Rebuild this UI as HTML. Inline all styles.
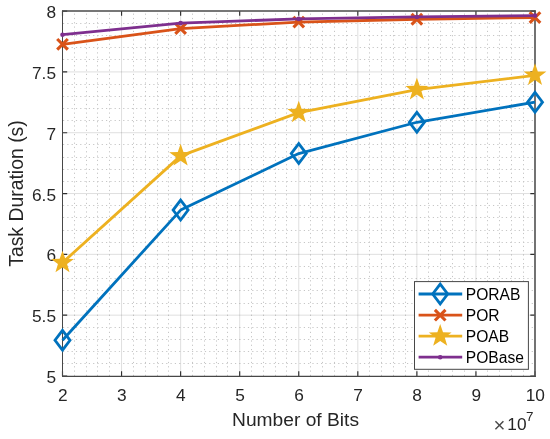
<!DOCTYPE html><html><head><meta charset="utf-8"><title>Task Duration vs Number of Bits</title><style>html,body{margin:0;padding:0;background:#fff;}svg{display:block;}text{font-family:'Liberation Sans', Arial, Helvetica, sans-serif;fill:#262626;}</style></head><body>
<svg width="550" height="439" viewBox="0 0 550 439">
<rect width="550" height="439" fill="#fff"/>
<path d="M74.5 376V11.1M86.5 376V11.1M97.5 376V11.1M109.5 376V11.1M133.5 376V11.1M145.5 376V11.1M157.5 376V11.1M168.5 376V11.1M192.5 376V11.1M204.5 376V11.1M216.5 376V11.1M227.5 376V11.1M251.5 376V11.1M263.5 376V11.1M275.5 376V11.1M286.5 376V11.1M310.5 376V11.1M322.5 376V11.1M334.5 376V11.1M346.5 376V11.1M369.5 376V11.1M381.5 376V11.1M393.5 376V11.1M405.5 376V11.1M428.5 376V11.1M440.5 376V11.1M452.5 376V11.1M464.5 376V11.1M487.5 376V11.1M499.5 376V11.1M511.5 376V11.1M523.5 376V11.1M63 363.5H535M63 351.5H535M63 339.5H535M63 327.5H535M63 303.5H535M63 290.5H535M63 278.5H535M63 266.5H535M63 242.5H535M63 230.5H535M63 217.5H535M63 205.5H535M63 181.5H535M63 169.5H535M63 157.5H535M63 144.5H535M63 120.5H535M63 108.5H535M63 96.5H535M63 84.5H535M63 59.5H535M63 47.5H535M63 35.5H535M63 23.5H535" fill="none" stroke="#c6c6c6" stroke-width="1" stroke-dasharray="1.2 3.1"/>
<path d="M121.56 11.1V376M180.62 11.1V376M239.69 11.1V376M298.75 11.1V376M357.81 11.1V376M416.88 11.1V376M475.94 11.1V376" fill="none" stroke="#262626" stroke-opacity="0.15" stroke-width="1"/>
<path d="M62.5 315.18H535M62.5 254.37H535M62.5 193.55H535M62.5 132.73H535M62.5 71.92H535" fill="none" stroke="#262626" stroke-opacity="0.15" stroke-width="1"/>
<path d="M62.5 376V371.3M62.5 11.1V15.8M121.56 376V371.3M121.56 11.1V15.8M180.62 376V371.3M180.62 11.1V15.8M239.69 376V371.3M239.69 11.1V15.8M298.75 376V371.3M298.75 11.1V15.8M357.81 376V371.3M357.81 11.1V15.8M416.88 376V371.3M416.88 11.1V15.8M475.94 376V371.3M475.94 11.1V15.8M535 376V371.3M535 11.1V15.8M62.5 376H67.2M535 376H530.3M62.5 315.18H67.2M535 315.18H530.3M62.5 254.37H67.2M535 254.37H530.3M62.5 193.55H67.2M535 193.55H530.3M62.5 132.73H67.2M535 132.73H530.3M62.5 71.92H67.2M535 71.92H530.3M62.5 11.1H67.2M535 11.1H530.3" fill="none" stroke="#2e2e2e" stroke-width="1.15"/>
<path d="M62.5 10.55V376.95" stroke="#474747" stroke-width="1" fill="none"/>
<path d="M535 10.55V376.95" stroke="#5a5a5a" stroke-width="1.7" fill="none"/>
<path d="M62 11H535.85" stroke="#4a4a4a" stroke-width="1.4" fill="none"/>
<path d="M62 376.3H535.85" stroke="#474747" stroke-width="1.3" fill="none"/>
<text x="56" y="383" font-size="17.3" text-anchor="end">5</text>
<text x="56" y="322.18" font-size="17.3" text-anchor="end">5.5</text>
<text x="56" y="261.37" font-size="17.3" text-anchor="end">6</text>
<text x="56" y="200.55" font-size="17.3" text-anchor="end">6.5</text>
<text x="56" y="139.73" font-size="17.3" text-anchor="end">7</text>
<text x="56" y="78.92" font-size="17.3" text-anchor="end">7.5</text>
<text x="56" y="18.1" font-size="17.3" text-anchor="end">8</text>
<text x="62.8" y="400.8" font-size="17.3" text-anchor="middle">2</text>
<text x="121.86" y="400.8" font-size="17.3" text-anchor="middle">3</text>
<text x="180.93" y="400.8" font-size="17.3" text-anchor="middle">4</text>
<text x="239.99" y="400.8" font-size="17.3" text-anchor="middle">5</text>
<text x="299.05" y="400.8" font-size="17.3" text-anchor="middle">6</text>
<text x="358.11" y="400.8" font-size="17.3" text-anchor="middle">7</text>
<text x="417.18" y="400.8" font-size="17.3" text-anchor="middle">8</text>
<text x="476.24" y="400.8" font-size="17.3" text-anchor="middle">9</text>
<text x="535.3" y="400.8" font-size="17.3" text-anchor="middle">10</text>
<text x="493.6" y="431.9" font-size="20.3" style="fill:#4a4a4a">×</text>
<text x="507.3" y="429.6" font-size="17.3">10</text>
<text x="526.1" y="420.7" font-size="13.4">7</text>
<text x="232.1" y="426" font-size="19.2">Number of Bits</text>
<text transform="translate(22.5 266.8) rotate(-90)" font-size="19.4">Task Duration (s)</text>
<polyline points="62.5,340.24 180.62,210.09 298.75,153.53 416.88,122.27 535,102.2" fill="none" stroke="#0072BD" stroke-width="2.8" stroke-linejoin="round" stroke-linecap="butt"/>
<path d="M62.5 330.34L70 340.24L62.5 350.14L55 340.24Z" fill="none" stroke="#0072BD" stroke-width="2.8" stroke-linejoin="miter"/>
<path d="M180.62 200.19L188.12 210.09L180.62 219.99L173.12 210.09Z" fill="none" stroke="#0072BD" stroke-width="2.8" stroke-linejoin="miter"/>
<path d="M298.75 143.63L306.25 153.53L298.75 163.43L291.25 153.53Z" fill="none" stroke="#0072BD" stroke-width="2.8" stroke-linejoin="miter"/>
<path d="M416.88 112.37L424.38 122.27L416.88 132.17L409.38 122.27Z" fill="none" stroke="#0072BD" stroke-width="2.8" stroke-linejoin="miter"/>
<path d="M535 92.3L542.5 102.2L535 112.1L527.5 102.2Z" fill="none" stroke="#0072BD" stroke-width="2.8" stroke-linejoin="miter"/>
<polyline points="62.5,44.31 180.62,28.62 298.75,22.05 416.88,19.25 535,17.55" fill="none" stroke="#D95319" stroke-width="2.8" stroke-linejoin="round" stroke-linecap="butt"/>
<path d="M57.2 39.01L67.8 49.61M57.2 49.61L67.8 39.01" fill="none" stroke="#D95319" stroke-width="3.1"/>
<path d="M175.32 23.32L185.93 33.92M175.32 33.92L185.93 23.32" fill="none" stroke="#D95319" stroke-width="3.1"/>
<path d="M293.45 16.75L304.05 27.35M293.45 27.35L304.05 16.75" fill="none" stroke="#D95319" stroke-width="3.1"/>
<path d="M411.57 13.95L422.18 24.55M411.57 24.55L422.18 13.95" fill="none" stroke="#D95319" stroke-width="3.1"/>
<path d="M529.7 12.25L540.3 22.85M529.7 22.85L540.3 12.25" fill="none" stroke="#D95319" stroke-width="3.1"/>
<polyline points="62.5,262.64 180.62,155.84 298.75,112.66 416.88,89.68 535,75.32" fill="none" stroke="#EDB120" stroke-width="2.8" stroke-linejoin="round" stroke-linecap="butt"/>
<path d="M62.5 250.64L65.32 258.75L73.91 258.93L67.07 264.12L69.55 272.35L62.5 267.44L55.45 272.35L57.93 264.12L51.09 258.93L59.68 258.75Z" fill="#EDB120"/>
<path d="M180.62 143.84L183.45 151.96L192.04 152.14L185.19 157.33L187.68 165.55L180.62 160.64L173.57 165.55L176.06 157.33L169.21 152.14L177.8 151.96Z" fill="#EDB120"/>
<path d="M298.75 100.66L301.57 108.78L310.16 108.96L303.32 114.15L305.8 122.37L298.75 117.46L291.7 122.37L294.18 114.15L287.34 108.96L295.93 108.78Z" fill="#EDB120"/>
<path d="M416.88 77.68L419.7 85.79L428.29 85.97L421.44 91.16L423.93 99.38L416.88 94.48L409.82 99.38L412.31 91.16L405.46 85.97L414.05 85.79Z" fill="#EDB120"/>
<path d="M535 63.32L537.82 71.44L546.41 71.61L539.57 76.81L542.05 85.03L535 80.12L527.95 85.03L530.43 76.81L523.59 71.61L532.18 71.44Z" fill="#EDB120"/>
<polyline points="62.5,34.7 180.62,23.14 298.75,18.88 416.88,16.94 535,15.6" fill="none" stroke="#7E2F8E" stroke-width="2.8" stroke-linejoin="round" stroke-linecap="butt"/>
<circle cx="62.5" cy="34.7" r="2.3" fill="#7E2F8E"/>
<circle cx="180.62" cy="23.14" r="2.3" fill="#7E2F8E"/>
<circle cx="298.75" cy="18.88" r="2.3" fill="#7E2F8E"/>
<circle cx="416.88" cy="16.94" r="2.3" fill="#7E2F8E"/>
<circle cx="535" cy="15.6" r="2.3" fill="#7E2F8E"/>
<rect x="414.5" y="281.6" width="113.9" height="87.7" fill="#fff" stroke="#474747" stroke-width="1"/>
<path d="M418.6 294H462.2" stroke="#0072BD" stroke-width="2.8" fill="none"/>
<path d="M440.2 284.1L447.7 294L440.2 303.9L432.7 294Z" fill="none" stroke="#0072BD" stroke-width="2.8" stroke-linejoin="miter"/>
<text x="465.8" y="299.7" font-size="15.6" style="fill:#000">PORAB</text>
<path d="M418.6 315.2H462.2" stroke="#D95319" stroke-width="2.8" fill="none"/>
<path d="M434.9 309.9L445.5 320.5M434.9 320.5L445.5 309.9" fill="none" stroke="#D95319" stroke-width="3.1"/>
<text x="465.8" y="320.9" font-size="15.6" style="fill:#000">POR</text>
<path d="M418.6 336.1H462.2" stroke="#EDB120" stroke-width="2.8" fill="none"/>
<path d="M440.2 324.1L443.02 332.22L451.61 332.39L444.77 337.58L447.25 345.81L440.2 340.9L433.15 345.81L435.63 337.58L428.79 332.39L437.38 332.22Z" fill="#EDB120"/>
<text x="465.8" y="341.8" font-size="15.6" style="fill:#000">POAB</text>
<path d="M418.6 357.2H462.2" stroke="#7E2F8E" stroke-width="2.8" fill="none"/>
<circle cx="440.2" cy="357.2" r="2.3" fill="#7E2F8E"/>
<text x="465.8" y="362.9" font-size="15.6" style="fill:#000">POBase</text>
</svg></body></html>
